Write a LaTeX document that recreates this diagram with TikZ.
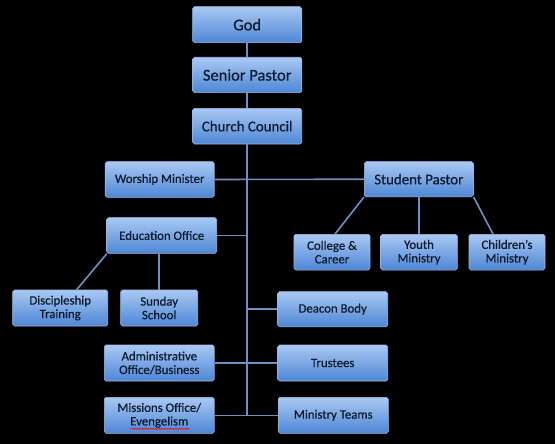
\documentclass[tikz,border=0pt]{standalone}
\usepackage{fontspec}
\setmainfont{Carlito}[FakeBold=0.5]
\usetikzlibrary{decorations.pathmorphing}
\definecolor{boxtop}{HTML}{A9C8F3}
\definecolor{boxbot}{HTML}{4E86D5}
\definecolor{boxedge}{HTML}{9CBCE8}
\definecolor{txt}{HTML}{0D1A2E}
\definecolor{link}{HTML}{6E90C6}
\tikzset{
  orgbox/.style={rectangle, rounded corners=1.8pt, draw=boxedge, line width=0.6pt,
    top color=boxtop, bottom color=boxbot, text=txt, align=center, inner sep=0pt,
    font=\fontsize{12.8}{13.6}\selectfont},
  bigtxt/.style={font=\fontsize{16.5}{18}\selectfont},
  midtxt/.style={font=\fontsize{14.9}{16}\selectfont},
  conn/.style={draw=link, line width=1.6pt},
}
\begin{document}
\begin{tikzpicture}[x=1pt,y=-1pt]
\fill[black] (0,0) rectangle (555,444);
\useasboundingbox (0,0) rectangle (555,444);

\node[orgbox,bigtxt,minimum width=109,minimum height=36] (god) at (247.2,24.7) {God};
\node[orgbox,bigtxt,minimum width=109,minimum height=35.4] (senior) at (247.2,75) {Senior Pastor};
\node[orgbox,midtxt,minimum width=109,minimum height=35.7] (council) at (247.2,126.2) {Church Council};

\node[orgbox,minimum width=109,minimum height=35.6] (worship) at (159.7,179.5) {Worship Minister};
\node[orgbox,midtxt,minimum width=109,minimum height=35] (student) at (418.8,179.2) {Student Pastor};
\node[orgbox,minimum width=110,minimum height=35.6] (edu) at (161.7,235.5) {Education Office};

\node[orgbox,minimum width=76,minimum height=35.7] (college) at (332,252.2) {College \&\\Career};
\node[orgbox,minimum width=76.6,minimum height=35.7] (youth) at (419,252.2) {Youth\\Ministry};
\node[orgbox,minimum width=76,minimum height=35.7] (children) at (507,252.2) {Children’s\\Ministry};

\node[orgbox,minimum width=95,minimum height=36] (disc) at (60.2,308) {Discipleship\\Training};
\node[orgbox,minimum width=77,minimum height=36] (sunday) at (159.2,308) {Sunday\\School};

\node[orgbox,minimum width=110,minimum height=35] (deacon) at (332.7,309.2) {Deacon Body};
\node[orgbox,minimum width=110,minimum height=36] (admin) at (159.3,363) {Administrative\\Office/Business};
\node[orgbox,minimum width=110,minimum height=36] (trustees) at (332.7,363) {Trustees};
\node[orgbox,minimum width=110,minimum height=36] (missions) at (159.3,415.3) {Missions Office/\\Evengelism};
\node[orgbox,minimum width=110,minimum height=36] (teams) at (333.3,415.3) {Ministry Teams};

% connectors
\draw[conn] (god.south) -- (senior.north);
\draw[conn] (senior.south) -- (council.north);
\draw[conn] (council.south) -- (council.south |- missions.east);
\draw[conn] (worship.east) -- (student.west);
\draw[conn] (edu.east) -- (edu.east -| council.south);
\draw[conn] (deacon.west) -- (deacon.west -| council.south);
\draw[conn] (admin.east) -- (trustees.west);
\draw[conn] (missions.east) -- (teams.west);
\draw[conn] (student.south west) -- ([xshift=3pt]college.north);
\draw[conn] (student.south -| youth.north) -- (youth.north);
\draw[conn] (student.south east) -- ([xshift=-14pt]children.north);
\draw[conn] ([xshift=0.5pt]edu.south west) -- ([xshift=16.5pt]disc.north);
\draw[conn] (sunday.north |- edu.south) -- (sunday.north);

% spell-check underline
\draw[red, line width=0.5pt, decorate, decoration={snake, segment length=2.2pt, amplitude=0.6pt}] (130.5,428.8) -- (189.5,428.8);
\end{tikzpicture}
\end{document}
